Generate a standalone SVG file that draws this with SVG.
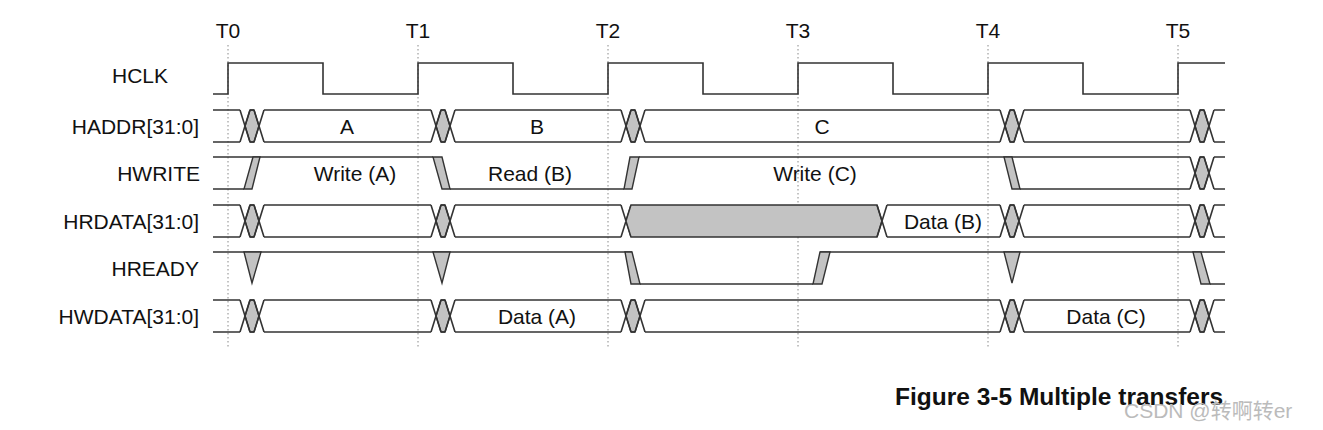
<svg xmlns="http://www.w3.org/2000/svg" xmlns:xlink="http://www.w3.org/1999/xlink" width="1323" height="430" viewBox="0 0 1323 430">
<style>
text{font-family:"Liberation Sans",Arial,sans-serif;font-size:21px;fill:#111}
.lbl{text-anchor:end}
.c{text-anchor:middle}
.w{fill:none;stroke:#333;stroke-width:1.6}
.g{fill:#c3c3c3;stroke:#333;stroke-width:1.4}
.dot{stroke:#888;stroke-width:1;stroke-dasharray:1.5 2.5}
</style>
<defs>
<g id="bx"><polygon class="g" points="5,16 10,0 14,0 19,16 14,32 10,32"/><path class="w" d="M0,0L10,32M0,32L10,0M14,0L24,32M14,32L24,0M10,0H14M10,32H14"/></g>
</defs>
<rect width="1323" height="430" fill="#fff"/>
<g id="grid">
<path class="dot" d="M228,45V348M418,45V348M608,45V348M798,45V348M988,45V348M1178,45V348"/>
<text class="c" x="228" y="38">T0</text><text class="c" x="418" y="38">T1</text><text class="c" x="608" y="38">T2</text><text class="c" x="798" y="38">T3</text><text class="c" x="988" y="38">T4</text><text class="c" x="1178" y="38">T5</text>
</g>
<g id="labels">
<text class="lbl" x="168" y="83">HCLK</text>
<text class="lbl" x="199" y="134">HADDR[31:0]</text>
<text class="lbl" x="200" y="181">HWRITE</text>
<text class="lbl" x="199" y="229">HRDATA[31:0]</text>
<text class="lbl" x="199" y="276">HREADY</text>
<text class="lbl" x="199" y="324">HWDATA[31:0]</text>
</g>
<g id="hclk"><path class="w" d="M213,94H228V63H323V94H418V63H513V94H608V63H703V94H798V63H893V94H988V63H1083V94H1178V63H1225"/></g>
<g id="haddr">
<path class="w" d="M213,110H240M264,110H431M455,110H621M645,110H1000M1024,110H1190M1214,110H1225M213,142H240M264,142H431M455,142H621M645,142H1000M1024,142H1190M1214,142H1225"/>
<use xlink:href="#bx" x="240" y="110"/><use xlink:href="#bx" x="431" y="110"/><use xlink:href="#bx" x="621" y="110"/><use xlink:href="#bx" x="1000" y="110"/><use xlink:href="#bx" x="1190" y="110"/>
<text class="c" x="347" y="134">A</text><text class="c" x="537" y="134">B</text><text class="c" x="822" y="134">C</text>
</g>
<g id="hwrite">
<path class="w" d="M213,157H433M213,189H244M450,189H624M639,157H1190M1020,189H1190M1214,157H1225M1214,189H1225"/>
<polygon class="g" points="244,189 252,189 260,157 253,157"/>
<polygon class="g" points="433,157 442,157 450,189 442,189"/>
<polygon class="g" points="624,189 632,189 639,157 630,157"/>
<polygon class="g" points="1004,157 1012,157 1020,189 1012,189"/>
<use xlink:href="#bx" x="1190" y="157"/>
<text class="c" x="355" y="181">Write (A)</text><text class="c" x="530" y="181">Read (B)</text><text class="c" x="815" y="181">Write (C)</text>
</g>
<g id="hrdata">
<path class="w" d="M213,205H240M264,205H431M455,205H621M213,237H240M264,237H431M455,237H621M621,205L631,237M621,237L631,205M887,205H1000M887,237H1000M1024,205H1190M1024,237H1190M1214,205H1225M1214,237H1225"/>
<polygon class="g" points="626,221 631,205 877,205 882,221 877,237 631,237"/>
<path class="w" d="M877,205L887,237M877,237L887,205"/>
<use xlink:href="#bx" x="240" y="205"/><use xlink:href="#bx" x="431" y="205"/><use xlink:href="#bx" x="1000" y="205"/><use xlink:href="#bx" x="1190" y="205"/>
<text class="c" x="943" y="229">Data (B)</text>
</g>
<g id="hready">
<path class="w" d="M213,252H632M820,252H1225M640,284H813M1210,284H1225"/>
<polygon class="g" points="244,252 261,252 252,283"/>
<polygon class="g" points="433,252 450,252 442,283"/>
<polygon class="g" points="625,252 632,252 640,284 631,284"/>
<polygon class="g" points="813,284 822,284 830,252 820,252"/>
<polygon class="g" points="1004,252 1020,252 1012,283"/>
<polygon class="g" points="1193,252 1201,252 1210,284 1201,284"/>
</g>
<g id="hwdata">
<path class="w" d="M213,300H240M264,300H431M455,300H621M645,300H1000M1024,300H1190M1214,300H1225M213,332H240M264,332H431M455,332H621M645,332H1000M1024,332H1190M1214,332H1225"/>
<use xlink:href="#bx" x="240" y="300"/><use xlink:href="#bx" x="431" y="300"/><use xlink:href="#bx" x="621" y="300"/><use xlink:href="#bx" x="1000" y="300"/><use xlink:href="#bx" x="1190" y="300"/>
<text class="c" x="537" y="324">Data (A)</text><text class="c" x="1106" y="324">Data (C)</text>
</g>
<text x="895" y="405" style="font-weight:bold;font-size:24.5px">Figure 3-5 Multiple transfers</text>
<text x="1124" y="418" style="font-size:21px;fill:#bbb;font-family:'Liberation Sans','Noto Sans CJK SC',sans-serif">CSDN @转啊转er</text>
</svg>
